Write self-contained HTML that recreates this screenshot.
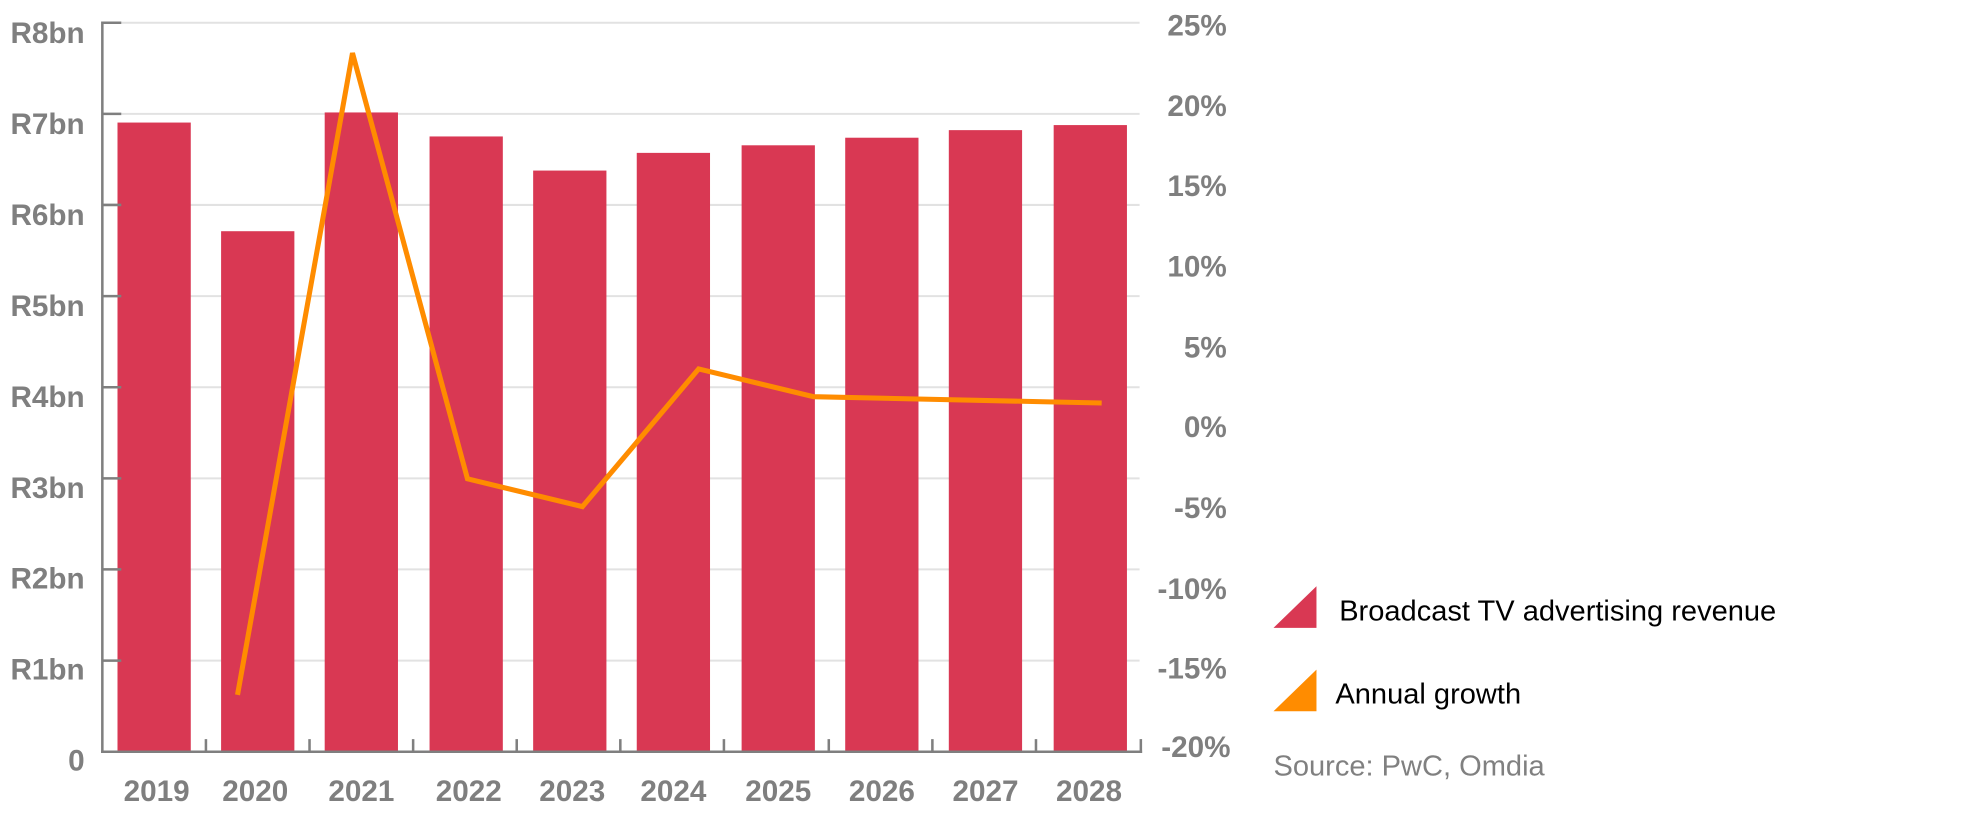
<!DOCTYPE html>
<html><head><meta charset="utf-8"><style>
html,body{margin:0;padding:0;background:#fff;}
svg{display:block;}
text{font-family:"Liberation Sans",Arial,sans-serif;}
.l{font-weight:bold;fill:#7f7f7f;font-size:23.5px;}
</style></head><body>
<svg width="1981" height="836" viewBox="0 0 1568 661.7" xmlns="http://www.w3.org/2000/svg">
<g stroke="#e2e2e2" stroke-width="1.6">
<line x1="96" y1="18" x2="902" y2="18"/><line x1="96" y1="90.1" x2="902" y2="90.1"/>
<line x1="96" y1="162.2" x2="902" y2="162.2"/><line x1="96" y1="234.4" x2="902" y2="234.4"/>
<line x1="96" y1="306.5" x2="902" y2="306.5"/><line x1="96" y1="378.6" x2="902" y2="378.6"/>
<line x1="96" y1="450.7" x2="902" y2="450.7"/><line x1="96" y1="522.9" x2="902" y2="522.9"/>
</g>
<g fill="#d93853">
<rect x="93" y="97" width="58" height="498"/>
<rect x="175" y="183" width="58" height="412"/>
<rect x="257" y="89" width="58" height="506"/>
<rect x="340" y="108" width="58" height="487"/>
<rect x="422" y="135" width="58" height="460"/>
<rect x="504" y="121" width="58" height="474"/>
<rect x="587" y="115" width="58" height="480"/>
<rect x="669" y="109" width="58" height="486"/>
<rect x="751" y="103" width="58" height="492"/>
<rect x="834" y="99" width="58" height="496"/>
</g>
<g stroke="#7f7f7f" stroke-width="2" fill="none">
<line x1="81" y1="17" x2="81" y2="596"/>
<line x1="80" y1="595" x2="904" y2="595"/>
<line x1="903" y1="585" x2="903" y2="596"/>
<path d="M81 18h15M81 90.1h15M81 162.2h15M81 234.4h15M81 306.5h15M81 378.6h15M81 450.7h15M81 522.9h15"/>
<path d="M163 585v10M245 585v10M327 585v10M409 585v10M491 585v10M573 585v10M656 585v10M738 585v10M820 585v10"/>
</g>
<polyline points="188,550 279,42 370,379 461,401 553,292 644,314 735,316 826,318 872,319" fill="none" stroke="#ff8c00" stroke-width="4" stroke-linejoin="miter"/>
<g class="l" text-anchor="end">
<text x="67" y="34">R8bn</text><text x="67" y="106">R7bn</text><text x="67" y="178">R6bn</text>
<text x="67" y="250">R5bn</text><text x="67" y="322">R4bn</text><text x="67" y="394">R3bn</text>
<text x="67" y="466">R2bn</text><text x="67" y="538">R1bn</text><text x="67" y="610">0</text>
</g>
<g class="l" text-anchor="end">
<text x="971" y="28">25%</text><text x="971" y="92">20%</text><text x="971" y="155">15%</text>
<text x="971" y="219">10%</text><text x="971" y="283">5%</text><text x="971" y="346">0%</text>
<text x="971" y="410">-5%</text><text x="971" y="474">-10%</text><text x="971" y="537">-15%</text>
<text x="974" y="599">-20%</text>
</g>
<g class="l" text-anchor="middle">
<text x="124" y="634">2019</text><text x="202" y="634">2020</text><text x="286" y="634">2021</text>
<text x="371" y="634">2022</text><text x="453" y="634">2023</text><text x="533" y="634">2024</text>
<text x="616" y="634">2025</text><text x="698" y="634">2026</text><text x="780" y="634">2027</text>
<text x="862" y="634">2028</text>
</g>
<polygon points="1008,497 1042,464 1042,497" fill="#d93853"/>
<polygon points="1008,563 1042,530 1042,563" fill="#ff8c00"/>
<text x="1060" y="491" font-size="23" fill="#000">Broadcast TV advertising revenue</text>
<text x="1057" y="557" font-size="23" fill="#000">Annual growth</text>
<text x="1008" y="614" font-size="23" fill="#808080">Source: PwC, Omdia</text>
</svg>
</body></html>
